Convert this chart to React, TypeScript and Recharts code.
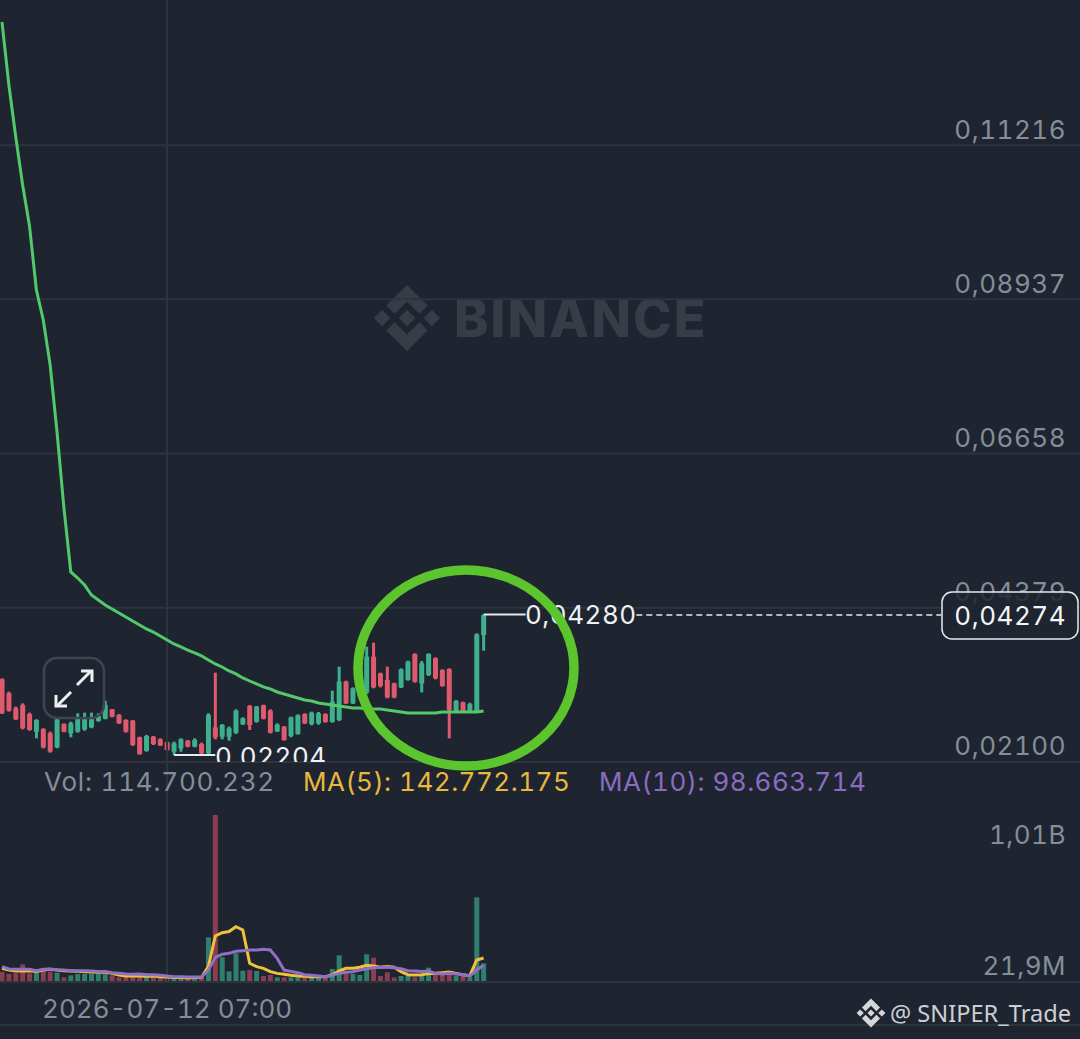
import React from 'react';
import { ComposedChart, Bar, Line, XAxis, YAxis, Cell, CartesianGrid, ReferenceLine } from 'recharts';

const openPrices = [
  0.03322, 0.03115, 0.02893, 0.02942, 0.02809, 0.02548, 0.02588, 0.02524, 0.02317, 0.02662,
  0.02524, 0.02548, 0.02583, 0.02612, 0.02706, 0.0274, 0.02878, 0.02795, 0.02721, 0.02711,
  0.02465, 0.02263, 0.02474, 0.02435, 0.02391, 0.02253, 0.02302, 0.02415, 0.02327, 0.02366,
  0.02228, 0.02612, 0.02474, 0.02474, 0.02534, 0.02657, 0.02928, 0.02696, 0.02937, 0.02859,
  0.02553, 0.02622, 0.02484, 0.02514, 0.02809, 0.02661, 0.02671, 0.02809, 0.02691, 0.02721,
  0.03287, 0.02967, 0.0309, 0.03125, 0.03657, 0.0341, 0.03312, 0.03262, 0.03203, 0.03312,
  0.03696, 0.03262, 0.03386, 0.03632, 0.03459, 0.03474, 0.02844, 0.02982, 0.02844, 0.02854, 0.03977,
];
const closePrices = [
  0.02819, 0.02859, 0.02731, 0.02598, 0.02573, 0.02721, 0.02317, 0.02253, 0.02731, 0.02548,
  0.02671, 0.02745, 0.02731, 0.02731, 0.0278, 0.02942, 0.0277, 0.02671, 0.02548, 0.02351,
  0.02215, 0.02484, 0.02366, 0.02346, 0.02277, 0.02376, 0.02435, 0.02327, 0.02425, 0.02228,
  0.02795, 0.02465, 0.02647, 0.02598, 0.02859, 0.02745, 0.02647, 0.02918, 0.0274, 0.02533,
  0.02652, 0.02425, 0.0276, 0.0279, 0.02671, 0.02829, 0.02819, 0.02691, 0.02992, 0.03287,
  0.02967, 0.03189, 0.03312, 0.03657, 0.03203, 0.03223, 0.03056, 0.03056, 0.03469, 0.03583,
  0.03287, 0.03558, 0.03696, 0.03336, 0.03223, 0.02868, 0.03001, 0.02854, 0.02957, 0.03987, 0.04274,
];
const highPrices = [
  0.03336, 0.03139, 0.02918, 0.02967, 0.02829, 0.02731, 0.02598, 0.02548, 0.02745, 0.02671,
  0.02696, 0.02819, 0.02829, 0.02829, 0.02819, 0.03006, 0.02883, 0.02809, 0.02731, 0.02721,
  0.02474, 0.02499, 0.02484, 0.0245, 0.02401, 0.02401, 0.0245, 0.02425, 0.0245, 0.02386,
  0.02819, 0.0342, 0.02662, 0.02622, 0.02878, 0.0276, 0.02942, 0.02927, 0.02947, 0.02878,
  0.02671, 0.02632, 0.0277, 0.02804, 0.02819, 0.02844, 0.02839, 0.02819, 0.03154, 0.03509,
  0.03302, 0.03203, 0.03336, 0.03804, 0.03863, 0.0342, 0.03509, 0.03272, 0.03484, 0.03597,
  0.03706, 0.03593, 0.03706, 0.03647, 0.03469, 0.03484, 0.03016, 0.02992, 0.02977, 0.04001, 0.0428,
];
const lowPrices = [
  0.02809, 0.02844, 0.02721, 0.02583, 0.02563, 0.0245, 0.02302, 0.02238, 0.02302, 0.02539,
  0.02465, 0.02534, 0.02563, 0.02598, 0.02696, 0.02731, 0.0276, 0.02662, 0.02534, 0.02337,
  0.0221, 0.02253, 0.02351, 0.02337, 0.02268, 0.02204, 0.02253, 0.02317, 0.02317, 0.02218,
  0.02218, 0.02435, 0.02435, 0.02415, 0.02514, 0.02647, 0.02573, 0.02681, 0.0273, 0.02523,
  0.02543, 0.02415, 0.02464, 0.02504, 0.02661, 0.02642, 0.02652, 0.02681, 0.02681, 0.02706,
  0.02957, 0.02957, 0.03065, 0.03105, 0.03189, 0.03203, 0.03041, 0.03041, 0.03193, 0.03302,
  0.03272, 0.03129, 0.03371, 0.03322, 0.03213, 0.0245, 0.02829, 0.02844, 0.02829, 0.02844, 0.03745,
];
const trendLine = [
  0.13036, 0.12105, 0.11336, 0.10627, 0.10021, 0.09075, 0.08632, 0.07967, 0.06977, 0.05854,
  0.04908, 0.04819, 0.04716, 0.04568, 0.04494, 0.0442, 0.04361, 0.04302, 0.04243, 0.04184,
  0.04125, 0.04066, 0.04021, 0.03962, 0.03903, 0.03844, 0.038, 0.03755, 0.03711, 0.03667,
  0.03608, 0.03549, 0.03504, 0.03445, 0.03401, 0.03342, 0.03297, 0.03253, 0.03209, 0.03179,
  0.03135, 0.03105, 0.03075, 0.03046, 0.03016, 0.03002, 0.02972, 0.02957, 0.02943, 0.02928,
  0.02913, 0.02898, 0.02898, 0.02883, 0.02883, 0.02883, 0.02869, 0.02854, 0.02839, 0.02824,
  0.02824, 0.02824, 0.02824, 0.02824, 0.02839, 0.02839, 0.02839, 0.02839, 0.02839, 0.02839, 0.02854,
];
// volumes in millions
const volumes = [
  100, 82, 87, 155, 87, 92, 125, 100, 92, 57,
  72, 82, 82, 82, 82, 82, 72, 57, 62, 62,
  62, 62, 57, 52, 57, 52, 52, 47, 50, 67,
  359, 1281, 208, 102, 238, 107, 112, 105, 67, 75,
  57, 57, 57, 57, 57, 57, 57, 57, 120, 223,
  87, 82, 75, 231, 205, 67, 95, 57, 67, 67,
  57, 67, 130, 75, 75, 75, 67, 67, 57, 660, 163,
];
const volumeMa5 = [
  125, 112, 105, 105, 107, 102, 112, 118, 112, 107,
  105, 102, 100, 97, 95, 97, 87, 75, 67, 67,
  67, 65, 67, 62, 60, 55, 55, 52, 55, 57,
  138, 369, 394, 402, 439, 414, 163, 138, 125, 100,
  87, 80, 72, 67, 65, 62, 62, 62, 75, 105,
  125, 125, 133, 148, 143, 133, 138, 133, 100, 77,
  75, 77, 85, 87, 92, 97, 87, 77, 70, 188, 203,
];
const volumeMa10 = [
  138, 120, 118, 118, 118, 107, 118, 120, 115, 112,
  107, 107, 107, 105, 102, 102, 92, 87, 82, 80,
  82, 77, 77, 72, 67, 62, 62, 60, 60, 60,
  112, 208, 231, 238, 253, 258, 263, 263, 268, 263,
  200, 112, 102, 92, 77, 72, 67, 62, 72, 87,
  95, 100, 112, 122, 130, 133, 133, 130, 122, 107,
  105, 102, 105, 87, 82, 87, 82, 77, 67, 112, 148,
];
const priceTicks = [0.11216, 0.08937, 0.06658, 0.04379, 0.021];
const volumeTicks = [1010, 21.9];
const timeTicks = [24];
const timeLabels = ['2026-07-12 07:00'];

const rows = openPrices.map((open, i) => ({
  index: i,
  open,
  close: closePrices[i],
  range: [lowPrices[i], highPrices[i]],
  trend: trendLine[i],
  volume: volumes[i],
  ma5: volumeMa5[i],
  ma10: volumeMa10[i],
}));

const BG = '#1e2530';
const GRID = '#2d343e';
const UP = '#3fb08d';
const DOWN = '#e05a6e';
const MUTED = '#858d98';
const FONT = 'Inter, "Noto Sans", sans-serif';
const X_DOMAIN: [number, number] = [-0.29, 156.69];
// wide tabular digits like the exchange's own font
const textStyle: React.CSSProperties = { fontVariantNumeric: 'tabular-nums', letterSpacing: 0.5 };

const Candle = (props: any) => {
  const { x, y, width, height, payload } = props;
  const [low, high] = payload.range;
  const perUnit = height / (high - low);
  const top = Math.max(payload.open, payload.close);
  const bottom = Math.min(payload.open, payload.close);
  const color = payload.close >= payload.open ? UP : DOWN;
  const cx = x + width / 2;
  return (
    <g>
      <rect x={cx - 1.5} y={y} width={3} height={height} fill={color} />
      <rect x={x} y={y + (high - top) * perUnit} width={width} height={Math.max((top - bottom) * perUnit, 1)} fill={color} />
    </g>
  );
};

const AxisTick = (props: any) => {
  const { y, payload, text } = props;
  return (
    <text x={1066} y={y - 16} dy="0.36em" textAnchor="end" fontSize={26} fontFamily={FONT} fill={MUTED} style={textStyle}>
      {text(payload.value)}
    </text>
  );
};

const priceText = (v: number) => v.toFixed(5).replace('.', ',');
const volumeText = (v: number) => (v >= 1000 ? (v / 1000).toFixed(2).replace('.', ',') + 'B' : v.toFixed(1).replace('.', ',') + 'M');

const Diamonds = ({ cx, cy, size, fill }: { cx: number; cy: number; size: number; fill: string }) => {
  const s = size / 62;
  return (
    <g transform={`translate(${cx} ${cy}) scale(${s})`} fill={fill}>
      <path d="M0 -32 L20 -12 L12 -4 L0 -16 L-12 -4 L-20 -12 Z" />
      <path d="M0 32 L20 12 L12 4 L0 16 L-12 4 L-20 12 Z" />
      <path d="M0 -8 L8 0 L0 8 L-8 0 Z" />
      <path d="M-24 -8 L-16 0 L-24 8 L-32 0 Z" />
      <path d="M24 -8 L32 0 L24 8 L16 0 Z" />
    </g>
  );
};

export default function App() {
  return (
    <div style={{ position: 'relative', width: 1080, height: 1039, background: BG, overflow: 'hidden', fontFamily: FONT }}>
      <style>{'body{margin:0}'}</style>

      <svg width={1080} height={1039} style={{ position: 'absolute', left: 0, top: 0 }}>
        <Diamonds cx={407} cy={318} size={64} fill="#363d47" />
        <text x={454} y={337} fontSize={52} fontWeight={800} letterSpacing={2} fontFamily={FONT} fill="#363d47">BINANCE</text>
      </svg>

      <div style={{ position: 'absolute', left: 0, top: 0 }}>
        <ComposedChart width={1080} height={763} data={rows} margin={{ top: 0, right: 0, bottom: 1, left: 0 }}>
          <CartesianGrid vertical={false} horizontalValues={priceTicks} stroke={GRID} strokeWidth={2} />
          <XAxis type="number" dataKey="index" domain={X_DOMAIN} hide />
          <YAxis
            orientation="right"
            mirror
            domain={[0.021, 0.13361]}
            ticks={priceTicks}
            interval={0}
            axisLine={false}
            tickLine={false}
            tick={<AxisTick text={priceText} />}
          />
          <ReferenceLine x={24} stroke={GRID} strokeWidth={2} />
          <ReferenceLine segment={[{ x: 92.2, y: 0.04274 }, { x: 136.5, y: 0.04274 }]} stroke="#e8eaec" strokeWidth={1.5} strokeDasharray="6 4" />
          <ReferenceLine segment={[{ x: 70, y: 0.0428 }, { x: 76.1, y: 0.0428 }]} stroke="#e8eaec" strokeWidth={2} />
          <ReferenceLine segment={[{ x: 25, y: 0.02204 }, { x: 31, y: 0.02204 }]} stroke="#e8eaec" strokeWidth={2} />
          <Bar dataKey="range" barSize={5} shape={<Candle />} isAnimationActive={false} />
          <Line dataKey="trend" type="linear" stroke="#52c96a" strokeWidth={3} dot={false} isAnimationActive={false} />
        </ComposedChart>
      </div>

      <div style={{ position: 'absolute', left: 0, top: 762 }}>
        <ComposedChart width={1080} height={263} data={rows} margin={{ top: 0, right: 0, bottom: 0, left: 0 }}>
          <XAxis
            type="number"
            dataKey="index"
            domain={X_DOMAIN}
            ticks={timeTicks}
            height={43}
            axisLine={false}
            tickLine={false}
            tickFormatter={(_v: number, i: number) => timeLabels[i]}
            tick={{ fontSize: 26, fontFamily: FONT, fill: MUTED, dy: 10, style: { fontVariantNumeric: 'tabular-nums' } }}
          />
          <YAxis
            orientation="right"
            mirror
            domain={[21.9, 1680.7]}
            ticks={volumeTicks}
            interval={0}
            axisLine={false}
            tickLine={false}
            tick={<AxisTick text={volumeText} />}
          />
          <ReferenceLine x={24} stroke={GRID} strokeWidth={2} />
          <ReferenceLine y={21.9} stroke={GRID} strokeWidth={2} />
          <Bar dataKey="volume" barSize={5} isAnimationActive={false}>
            {rows.map((r) => (
              <Cell key={r.index} fill={r.close >= r.open ? '#2f7f6c' : '#8c3d50'} />
            ))}
          </Bar>
          <Line dataKey="ma5" type="linear" stroke="#f0c23c" strokeWidth={3} dot={false} isAnimationActive={false} />
          <Line dataKey="ma10" type="linear" stroke="#8f70c4" strokeWidth={3} dot={false} isAnimationActive={false} />
        </ComposedChart>
      </div>

      <svg width={1080} height={1039} style={{ position: 'absolute', left: 0, top: 0 }}>
        <defs>
          <clipPath id="priceArea"><rect x={0} y={0} width={1080} height={762} /></clipPath>
        </defs>
        <line x1={0} x2={1080} y1={1025} y2={1025} stroke={GRID} strokeWidth={2} />

        {/* expand button */}
        <rect x={44} y={658} width={60} height={60} rx={13} fill="none" stroke="#3f4650" strokeWidth={2.5} />
        <g stroke="#eef0f2" strokeWidth={3} fill="none">
          <path d="M77 685 L91 671" />
          <path d="M81 671 L92 671 L92 682" />
          <path d="M71 692 L57 706" />
          <path d="M56 695 L56 706 L67 706" />
        </g>

        <text x={215} y={766} fontSize={26} fontFamily={FONT} fill="#f0f1f3" style={textStyle} clipPath="url(#priceArea)">0,02204</text>
        <text x={525} y={624} fontSize={26} fontFamily={FONT} fill="#f0f1f3" style={textStyle}>0,04280</text>

        <text x={44} y={791} fontSize={26} fontFamily={FONT} fill={MUTED} style={{ ...textStyle, letterSpacing: 0.8 }}>Vol: 114.700.232</text>
        <text x={303} y={791} fontSize={26} fontFamily={FONT} fill="#e8b83f" style={textStyle}>MA(5): 142.772.175</text>
        <text x={599} y={791} fontSize={26} fontFamily={FONT} fill="#8a6cc0" style={textStyle}>MA(10): 98.663.714</text>

        <ellipse cx={466} cy={668} rx={108} ry={98} fill="none" stroke="#5cc42c" strokeWidth={9.5} />

        {/* current price tag */}
        <rect x={942} y={592} width={136} height={47} rx={10} fill={BG} fillOpacity={0.85} stroke="#e8eaec" strokeWidth={1.5} />
        <text x={1066} y={625} textAnchor="end" fontSize={26} fontFamily={FONT} fill="#f4f5f6" style={textStyle}>0,04274</text>

        {/* source mark */}
        <Diamonds cx={871} cy={1013} size={28} fill="#d4d6d9" />
        <text x={890} y={1022} fontSize={23.6} fontFamily={'"Noto Sans", sans-serif'} fill="#ccd0d4">@ SNIPER_Trade</text>
      </svg>
    </div>
  );
}
